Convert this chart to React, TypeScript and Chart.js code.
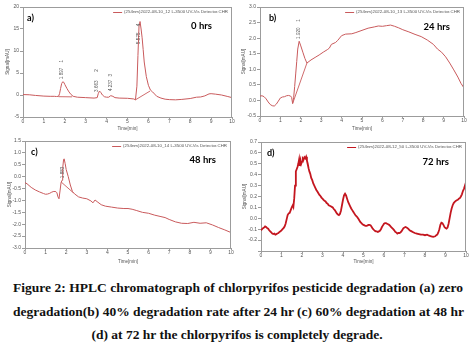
import React, { useEffect, useRef } from "react";
import { Chart, registerables } from "chart.js";

Chart.register(...registerables);

// ---------------- data ----------------
const timeTicks = [0, 1, 2, 3, 4, 5, 6, 7, 8, 9, 10];

// (a) 0 hrs
const aTime = [0, 0.3, 0.6, 1.0, 1.3, 1.5, 1.6, 1.7, 1.75, 1.8, 1.85, 1.9, 1.95, 2.0, 2.1, 2.2, 2.3, 2.4, 2.6, 3.0, 3.4, 3.55, 3.6, 3.66, 3.72, 3.8, 3.9, 4.0, 4.1, 4.2, 4.3, 4.4, 4.6, 5.0, 5.3, 5.38, 5.45, 5.5, 5.55, 5.6, 5.65, 5.7, 5.75, 5.8, 5.9, 6.0, 6.1, 6.2, 6.4, 6.6, 6.8, 7.0, 7.3, 7.6, 8.0, 8.3, 8.5, 8.7, 8.9, 9.0, 9.2, 9.5, 9.8, 10];
const aSignal = [0.1, 0.05, -0.1, -0.25, -0.3, -0.3, -0.35, -0.3, 0.3, 1.5, 2.6, 3.0, 2.9, 2.4, 1.5, 0.7, 0.1, -0.3, -0.5, -0.6, -0.7, -0.6, 0.3, 0.9, 0.6, 0.0, -0.4, -0.5, -0.5, -0.15, -0.3, -0.6, -0.7, -0.75, -0.9, -1.1, 2.0, 9.0, 15.5, 16.7, 15.0, 13.0, 10.3, 7.5, 4.2, 2.2, 1.1, 0.7, -0.3, -0.7, -0.95, -1.05, -1.1, -1.0, -0.8, -0.5, -0.45, -0.2, 0.25, 0.3, 0.2, 0.0, -0.35, -0.6];
const aBase1Time = [1.7, 2.35];
const aBase1Signal = [-0.38, -0.42];
const aBase2Time = [5.38, 6.08];
const aBase2Signal = [-1.1, 0.9];
const aPeakTime = [1.83, 3.54, 4.22, 5.53];
const aPeakText = ["1.897", "3.663", "4.237", "5.575"];
const aPeakTextSignal = [4.9, 2.0, 2.2, 12.9];
const aPeakNum = ["1", "2", "3", "4"];
const aPeakNumSignal = [7.7, 5.6, 4.5, 15.9];

// (b) 24 hrs
const bTime = [0, 0.1, 0.2, 0.3, 0.4, 0.5, 0.6, 0.7, 0.8, 0.9, 1.0, 1.1, 1.2, 1.3, 1.4, 1.5, 1.55, 1.6, 1.65, 1.7, 1.75, 1.8, 1.85, 1.92, 2.0, 2.1, 2.2, 2.3, 2.5, 2.7, 2.9, 3.1, 3.3, 3.4, 3.5, 3.7, 3.8, 4.0, 4.2, 4.5, 4.7, 5.0, 5.3, 5.6, 5.8, 6.0, 6.2, 6.4, 6.6, 6.8, 7.0, 7.3, 7.6, 7.9, 8.2, 8.5, 8.7, 8.9, 9.1, 9.3, 9.5, 9.7, 9.85, 10];
const bSignal = [0.14, 0.15, 0.12, 0.05, -0.05, -0.13, -0.17, -0.18, -0.12, -0.02, 0.08, 0.11, 0.12, 0.15, 0.16, 0.14, 0.1, -0.1, 0.1, 0.45, 0.85, 1.25, 1.65, 1.9, 1.75, 1.55, 1.35, 1.2, 1.3, 1.38, 1.46, 1.55, 1.63, 1.68, 1.8, 1.86, 1.92, 2.08, 2.13, 2.14, 2.18, 2.25, 2.32, 2.36, 2.39, 2.38, 2.4, 2.42, 2.38, 2.33, 2.27, 2.2, 2.12, 2.05, 1.94, 1.8, 1.65, 1.55, 1.4, 1.2, 0.98, 0.75, 0.55, 0.4];
const bBaseTime = [1.6, 2.3];
const bBaseSignal = [-0.1, 1.2];
const bPeakTime = [1.91];
const bPeakText = ["1.920"];
const bPeakTextSignal = [2.16];
const bPeakNum = ["1"];
const bPeakNumSignal = [2.57];

// (c) 48 hrs
const cTime = [0, 0.1, 0.3, 0.5, 0.7, 0.9, 1.0, 1.1, 1.2, 1.3, 1.4, 1.5, 1.55, 1.6, 1.65, 1.7, 1.75, 1.8, 1.83, 1.87, 1.9, 1.95, 2.0, 2.1, 2.2, 2.3, 2.4, 2.6, 2.8, 3.0, 3.2, 3.3, 3.4, 3.5, 3.7, 3.9, 4.2, 4.5, 4.8, 5.0, 5.2, 5.4, 5.7, 6.0, 6.3, 6.6, 6.8, 7.0, 7.3, 7.6, 7.9, 8.2, 8.5, 8.8, 9.1, 9.4, 9.7, 10];
const cSignal = [-0.25, -0.3, -0.45, -0.56, -0.64, -0.71, -0.74, -0.73, -0.7, -0.65, -0.62, -0.63, -0.68, -0.85, -0.93, -0.6, -0.25, -0.15, 0.35, 0.7, 0.75, 0.55, 0.3, 0.0, -0.35, -0.62, -0.72, -0.85, -0.9, -0.93, -1.02, -1.1, -0.98, -1.05, -1.18, -1.24, -1.28, -1.32, -1.34, -1.34, -1.37, -1.42, -1.5, -1.54, -1.62, -1.68, -1.72, -1.8, -1.9, -1.96, -1.97, -1.92, -1.96, -1.94, -2.03, -2.14, -2.24, -2.35];
const cBaseTime = [1.75, 2.35];
const cBaseSignal = [-0.22, -0.68];
const cPeakTime = [1.83];
const cPeakText = ["1.883"];
const cPeakTextSignal = [0.18];

// (d) 72 hrs
const dTime = [0, 0.05, 0.1, 0.15, 0.2, 0.25, 0.3, 0.35, 0.4, 0.45, 0.5, 0.55, 0.6, 0.65, 0.7, 0.75, 0.8, 0.85, 0.9, 0.95, 1.0, 1.05, 1.1, 1.15, 1.2, 1.25, 1.3, 1.35, 1.4, 1.45, 1.5, 1.55, 1.58, 1.62, 1.66, 1.7, 1.74, 1.78, 1.82, 1.86, 1.88, 1.9, 1.93, 1.96, 2.0, 2.04, 2.08, 2.12, 2.16, 2.2, 2.24, 2.28, 2.32, 2.36, 2.4, 2.45, 2.5, 2.55, 2.6, 2.65, 2.7, 2.75, 2.8, 2.85, 2.9, 2.95, 3.0, 3.05, 3.1, 3.15, 3.2, 3.25, 3.3, 3.35, 3.4, 3.45, 3.5, 3.55, 3.6, 3.65, 3.7, 3.75, 3.8, 3.85, 3.9, 3.95, 4.0, 4.05, 4.1, 4.15, 4.2, 4.25, 4.3, 4.35, 4.4, 4.45, 4.5, 4.55, 4.6, 4.65, 4.7, 4.75, 4.8, 4.85, 4.9, 4.95, 5.0, 5.05, 5.1, 5.15, 5.2, 5.25, 5.3, 5.35, 5.4, 5.45, 5.5, 5.55, 5.6, 5.65, 5.7, 5.75, 5.8, 5.85, 5.9, 5.95, 6.0, 6.05, 6.1, 6.15, 6.2, 6.25, 6.3, 6.35, 6.4, 6.45, 6.5, 6.55, 6.6, 6.65, 6.7, 6.75, 6.8, 6.85, 6.9, 6.95, 7.0, 7.05, 7.1, 7.15, 7.2, 7.25, 7.3, 7.35, 7.4, 7.45, 7.5, 7.6, 7.7, 7.8, 7.9, 8.0, 8.1, 8.2, 8.3, 8.4, 8.5, 8.55, 8.6, 8.65, 8.7, 8.75, 8.8, 8.85, 8.9, 8.95, 9.0, 9.05, 9.1, 9.15, 9.2, 9.25, 9.3, 9.35, 9.4, 9.45, 9.5, 9.55, 9.6, 9.65, 9.7, 9.75, 9.8, 9.85, 9.9, 9.95, 10];
const dSignal = [-0.11, -0.1, -0.09, -0.085, -0.075, -0.08, -0.09, -0.095, -0.11, -0.12, -0.13, -0.14, -0.145, -0.14, -0.15, -0.145, -0.14, -0.135, -0.125, -0.12, -0.11, -0.1, -0.09, -0.075, -0.05, -0.01, 0.03, 0.045, 0.05, 0.075, 0.1, 0.12, 0.105, 0.18, 0.3, 0.43, 0.45, 0.47, 0.5, 0.54, 0.52, 0.48, 0.53, 0.5, 0.52, 0.55, 0.54, 0.56, 0.55, 0.565, 0.53, 0.5, 0.46, 0.43, 0.41, 0.37, 0.35, 0.32, 0.3, 0.28, 0.26, 0.245, 0.23, 0.215, 0.205, 0.19, 0.18, 0.17, 0.16, 0.155, 0.14, 0.135, 0.12, 0.115, 0.11, 0.105, 0.1, 0.085, 0.075, 0.06, 0.045, 0.035, 0.03, 0.04, 0.07, 0.12, 0.17, 0.21, 0.225, 0.21, 0.18, 0.15, 0.13, 0.11, 0.09, 0.075, 0.06, 0.045, 0.03, 0.02, 0.01, -0.005, -0.02, -0.035, -0.045, -0.055, -0.06, -0.065, -0.07, -0.07, -0.065, -0.06, -0.06, -0.065, -0.08, -0.095, -0.105, -0.115, -0.12, -0.12, -0.125, -0.12, -0.115, -0.1, -0.08, -0.065, -0.05, -0.045, -0.045, -0.05, -0.055, -0.06, -0.07, -0.08, -0.09, -0.1, -0.11, -0.125, -0.13, -0.14, -0.135, -0.135, -0.13, -0.12, -0.105, -0.09, -0.085, -0.08, -0.085, -0.09, -0.1, -0.11, -0.115, -0.12, -0.125, -0.13, -0.135, -0.14, -0.145, -0.15, -0.15, -0.155, -0.15, -0.16, -0.165, -0.17, -0.165, -0.155, -0.15, -0.13, -0.1, -0.06, -0.04, -0.045, -0.06, -0.08, -0.09, -0.095, -0.085, -0.05, 0.0, 0.05, 0.09, 0.12, 0.14, 0.15, 0.16, 0.165, 0.17, 0.18, 0.185, 0.2, 0.22, 0.25, 0.27, 0.3, 0.33];

const captionLines = [
  "Figure 2: HPLC chromatograph of chlorpyrifos pesticide degradation (a) zero",
  "degradation(b) 40% degradation rate after 24 hr (c) 60% degradation at 48 hr",
  "(d) at 72 hr the chlorpyrifos is completely degrade.",
];

// ---------------- helpers ----------------
const zip = (xs: number[], ys: number[]) => xs.map((x, i) => ({ x, y: ys[i] }));

type PeakLabel = { t: number; v: number; text: string };

type PanelSpec = {
  left: number; top: number; width: number; height: number;
  area: { l: number; t: number; r: number; b: number };
  ymin: number; ymax: number; ystep: number; decimals: number; hideMin?: boolean;
  series: { x: number; y: number }[];
  baselines: { x: number; y: number }[][];
  color: string; lineWidth: number;
  letter: string; letterDx: number;
  hours: string; hoursDx: number; hoursDy: number;
  legend: string;
  peaks: PeakLabel[];
  yTitlePad: number;
};

const LINE_AC = "#c95a5c";
const LINE_D = "#c4161f";
const AXIS = "#9c9c9c";
const TICK_TXT = "#555555";

function labels(ts: number[], vs: number[], texts: string[]): PeakLabel[] {
  return ts.map((t, i) => ({ t, v: vs[i], text: texts[i] }));
}

const panels: PanelSpec[] = [
  {
    left: 0, top: 0, width: 237, height: 132,
    area: { l: 23, t: 7, r: 232, b: 117 },
    ymin: -5, ymax: 20, ystep: 5, decimals: 0,
    series: zip(aTime, aSignal),
    baselines: [zip(aBase1Time, aBase1Signal), zip(aBase2Time, aBase2Signal)],
    color: LINE_AC, lineWidth: 1,
    letter: "a)", letterDx: 4,
    hours: "0 hrs", hoursDx: 20, hoursDy: 22,
    legend: "(254nm)2022-08-10_12 L-3500 UV-Vis Detector.CHR",
    peaks: [
      ...labels(aPeakTime, aPeakTextSignal, aPeakText),
      ...labels(aPeakTime, aPeakNumSignal, aPeakNum),
    ],
    yTitlePad: 5,
  },
  {
    left: 237, top: 0, width: 237, height: 132,
    area: { l: 23, t: 7, r: 227, b: 116 },
    ymin: -0.5, ymax: 3.0, ystep: 0.5, decimals: 1,
    series: zip(bTime, bSignal),
    baselines: [zip(bBaseTime, bBaseSignal)],
    color: LINE_AC, lineWidth: 1,
    letter: "b)", letterDx: 9,
    hours: "24 hrs", hoursDx: 14, hoursDy: 23,
    legend: "(254nm)2022-08-10_13 L-3500 UV-Vis Detector.CHR",
    peaks: [
      ...labels(bPeakTime, bPeakTextSignal, bPeakText),
      ...labels(bPeakTime, bPeakNumSignal, bPeakNum),
    ],
    yTitlePad: 4,
  },
  {
    left: 0, top: 132, width: 237, height: 133,
    area: { l: 25, t: 9, r: 231, b: 116 },
    ymin: -3.0, ymax: 1.5, ystep: 0.5, decimals: 1,
    series: zip(cTime, cSignal),
    baselines: [zip(cBaseTime, cBaseSignal)],
    color: LINE_AC, lineWidth: 1,
    letter: "c)", letterDx: 6,
    hours: "48 hrs", hoursDx: 15, hoursDy: 22,
    legend: "(254nm)2022-08-10_14 L-3500 UV-Vis Detector.CHR",
    peaks: labels(cPeakTime, cPeakTextSignal, cPeakText),
    yTitlePad: 7,
  },
  {
    left: 237, top: 132, width: 237, height: 133,
    area: { l: 24, t: 10, r: 229, b: 119 },
    ymin: -0.3, ymax: 0.7, ystep: 0.1, decimals: 1, hideMin: true,
    series: zip(dTime, dSignal),
    baselines: [],
    color: LINE_D, lineWidth: 1.8,
    letter: "d)", letterDx: 6,
    hours: "72 hrs", hoursDx: 17, hoursDy: 23,
    legend: "(254nm)2022-08-12_50 L-3500 UV-Vis Detector.CHR",
    peaks: [],
    yTitlePad: 5,
  },
];

function decorPlugin(p: PanelSpec) {
  return {
    id: "decor" + p.letter,
    afterDraw(chart: any) {
      const { ctx, chartArea: ca, scales } = chart;
      ctx.save();
      // top and right frame lines
      ctx.strokeStyle = AXIS;
      ctx.lineWidth = 1;
      ctx.beginPath();
      ctx.moveTo(ca.left, Math.round(ca.top) + 0.5);
      ctx.lineTo(ca.right, Math.round(ca.top) + 0.5);
      ctx.moveTo(Math.round(ca.right) - 0.5, ca.top);
      ctx.lineTo(Math.round(ca.right) - 0.5, ca.bottom);
      ctx.stroke();

      // legend
      ctx.font = '4.4px "Liberation Sans", Arial, sans-serif';
      ctx.fillStyle = TICK_TXT;
      ctx.textBaseline = "middle";
      ctx.textAlign = "left";
      const w = ctx.measureText(p.legend).width;
      const tx = ca.right - 4 - w;
      const ly = ca.top + 5;
      ctx.fillText(p.legend, tx, ly);
      ctx.strokeStyle = p.color;
      ctx.beginPath();
      ctx.moveTo(tx - 11, ly + 0.5);
      ctx.lineTo(tx - 2, ly + 0.5);
      ctx.stroke();

      // panel letter and hours
      ctx.fillStyle = "#000";
      ctx.textBaseline = "alphabetic";
      ctx.font = 'bold 9px Lato, "Open Sans", sans-serif';
      ctx.textAlign = "left";
      ctx.fillText(p.letter, ca.left + p.letterDx, ca.top + 14);
      ctx.textAlign = "right";
      ctx.font = 'bold 9.5px Lato, "Open Sans", sans-serif';
      ctx.fillText(p.hours, ca.right - p.hoursDx, ca.top + p.hoursDy);

      // rotated peak labels
      ctx.fillStyle = TICK_TXT;
      ctx.font = '4.6px "Liberation Sans", Arial, sans-serif';
      ctx.textAlign = "center";
      ctx.textBaseline = "middle";
      for (const pk of p.peaks) {
        const px = scales.x.getPixelForValue(pk.t);
        const py = scales.y.getPixelForValue(pk.v);
        ctx.save();
        ctx.translate(px, py);
        ctx.rotate(-Math.PI / 2);
        ctx.fillText(pk.text, 0, 0);
        ctx.restore();
      }
      ctx.restore();
    },
  };
}

function Panel({ p }: { p: PanelSpec }) {
  const ref = useRef<HTMLCanvasElement | null>(null);
  useEffect(() => {
    if (!ref.current) return;
    const datasets: any[] = [
      {
        data: p.series,
        borderColor: p.color,
        borderWidth: p.lineWidth,
        pointRadius: 0,
        tension: 0,
        fill: false,
      },
      ...p.baselines.map((b) => ({
        data: b,
        borderColor: p.color,
        borderWidth: 0.9,
        pointRadius: 0,
        tension: 0,
        fill: false,
      })),
    ];
    const tickFont = { size: 5, family: '"Liberation Sans", Arial, sans-serif' };
    const titleFont = { size: 4.6, family: '"Liberation Sans", Arial, sans-serif' };
    const chart = new Chart(ref.current, {
      type: "line",
      data: { datasets },
      options: {
        animation: false,
        responsive: false,
        maintainAspectRatio: false,
        events: [],
        layout: {
          padding: { left: 0, top: p.area.t, right: p.width - p.area.r, bottom: 0 },
        },
        plugins: { legend: { display: false }, tooltip: { enabled: false } },
        scales: {
          x: {
            type: "linear",
            min: timeTicks[0],
            max: timeTicks[timeTicks.length - 1],
            afterFit: (s: any) => { s.height = p.height - p.area.b; },
            afterBuildTicks: (s: any) => { s.ticks = timeTicks.map((v) => ({ value: v })); },
            ticks: { font: tickFont, color: TICK_TXT, padding: 0, maxRotation: 0, autoSkip: false,
              callback: (v: any) => String(v) },
            grid: { display: true, drawOnChartArea: false, tickLength: 2, color: AXIS },
            border: { display: true, color: AXIS },
            title: { display: true, text: "Time[min]", font: titleFont, color: TICK_TXT, padding: { top: 0, bottom: 1 } },
          },
          y: {
            type: "linear",
            min: p.ymin,
            max: p.ymax,
            afterFit: (s: any) => { s.width = p.area.l; },
            ticks: {
              stepSize: p.ystep,
              font: tickFont,
              color: TICK_TXT,
              padding: 1,
              autoSkip: false,
              callback: (v: any) => {
                const n = Number(v);
                if (p.hideMin && Math.abs(n - p.ymin) < 1e-9) return "";
                const s = (Math.abs(n) < 1e-9 ? 0 : n).toFixed(p.decimals);
                return s;
              },
            },
            grid: { display: true, drawOnChartArea: false, tickLength: 3, color: AXIS },
            border: { display: true, color: AXIS },
            title: { display: true, text: "Signal[mAU]", font: titleFont, color: TICK_TXT, padding: { top: p.yTitlePad, bottom: 0 } },
          },
        },
      } as any,
      plugins: [decorPlugin(p)],
    });
    return () => chart.destroy();
  }, [p]);
  return (
    <canvas
      ref={ref}
      width={p.width}
      height={p.height}
      style={{ position: "absolute", left: p.left, top: p.top, width: p.width, height: p.height }}
    />
  );
}

export default function App() {
  const capFont: React.CSSProperties = {
    position: "absolute",
    fontFamily: '"Liberation Serif", "Times New Roman", serif',
    fontWeight: "bold",
    fontSize: "13.5px",
    lineHeight: "16px",
    height: 16,
    color: "#111",
    whiteSpace: "nowrap",
  };
  return (
    <div style={{ position: "fixed", left: 0, top: 0, width: 474, height: 353, background: "#fff", overflow: "hidden" }}>
      {panels.map((p) => (
        <Panel key={p.letter} p={p} />
      ))}
      <div style={{ ...capFont, left: 13, width: 450, top: 280, textAlign: "justify", textAlignLast: "justify" as any }}>
        {captionLines[0]}
      </div>
      <div style={{ ...capFont, left: 13, width: 450, top: 304, textAlign: "justify", textAlignLast: "justify" as any }}>
        {captionLines[1]}
      </div>
      <div style={{ ...capFont, left: 0, width: 474, top: 327, textAlign: "center" }}>
        {captionLines[2]}
      </div>
    </div>
  );
}
